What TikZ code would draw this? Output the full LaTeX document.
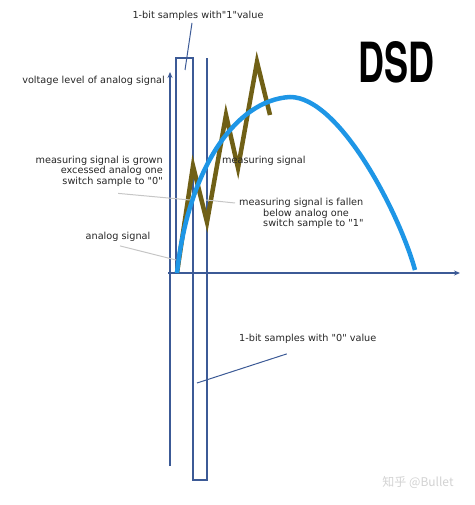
\documentclass[tikz,border=0pt]{standalone}
\usepackage{graphicx}
\usepackage{fontspec}
\setmainfont{DejaVu Sans}
\newfontfamily\cjkfont{Noto Sans CJK SC}
\newfontfamily\dsdfont{TeX Gyre Heros}
\usetikzlibrary{arrows.meta}

\definecolor{axisblue}{RGB}{60,90,150}
\definecolor{analogblue}{RGB}{30,150,230}
\definecolor{olivesig}{RGB}{112,96,22}
\newcommand{\sq}{\textquotedbl}

\begin{document}
\begin{tikzpicture}[x=1pt,y=-1pt,
    lbl/.style={inner sep=0pt,font=\fontsize{9.7}{10.5}\selectfont,text=black!85},
    axisline/.style={axisblue,line width=1.6pt},
    pointer/.style={axisblue,line width=1pt},
    faintpointer/.style={gray!45,line width=1pt}]
\useasboundingbox (0,0) rectangle (474,505);

% axes
\draw[axisline,-{Stealth[length=6pt,width=5pt]}] (170,466) -- (170,72);
\draw[axisline,-{Stealth[length=6pt,width=5pt]}] (168,273) -- (460,273);

% 1-bit sample strips
\draw[axisline] (176,273) -- (176,58) -- (193,58) -- (193,480) -- (207,480) -- (207,58);

% measuring signal
\draw[olivesig,line width=4.5pt,line join=miter]
  (177,273) -- (193,166) -- (207,222) -- (226,115) -- (238,168) -- (257,62) -- (270,115);

% analog signal
\draw[analogblue,line width=4.5pt]
  (177,273) .. controls (188,170) and (235,100) .. (290,97)
  .. controls (340,97) and (400,215) .. (415,270);

\node[inner sep=0pt] (dsd) at (396,62) {\resizebox{76pt}{41pt}{\dsdfont\bfseries DSD}};

\node[lbl] (lblone) at (198,16) {1-bit samples with\sq1\sq value};
\node[lbl,anchor=east] (lblvolt) at (165,81) {voltage level of analog signal};
\node[lbl,anchor=east,align=right] (lblgrown) at (163,171)
  {measuring signal is grown\\excessed analog one\\switch sample to \sq0\sq};
\node[lbl] (lblanalog) at (118,237) {analog signal};
\node[lbl,anchor=west] (lblmeas) at (222,161) {measuring signal};
\node[lbl,anchor=north west,align=left] (lblfallen) at (239,198)
  {measuring signal is fallen\\\hspace*{24pt}below analog one\\\hspace*{24pt}switch sample to \sq1\sq};
\node[lbl,anchor=west] (lblzero) at (239,339) {1-bit samples with \sq0\sq{} value};

\node[inner sep=0pt,text=gray!35,font=\cjkfont\fontsize{12}{13}\selectfont] (mark) at (418,482) {知乎 @Bullet};

% leaders
\coordinate (oneend) at (185,70);
\coordinate (grownend) at (190,200);
\coordinate (analogend) at (176,260);
\coordinate (fallenend) at (206,200);
\coordinate (zeroend) at (197,383);
\draw[pointer] ([xshift=-6pt,yshift=-2pt]lblone.south) -- (oneend);
\draw[faintpointer] ([xshift=19pt,yshift=-7pt]lblgrown.south) -- (grownend);
\draw[faintpointer] ([xshift=2pt,yshift=-4pt]lblanalog.south) -- (analogend);
\draw[faintpointer] ([xshift=-4pt,yshift=-5pt]lblfallen.north west) -- (fallenend);
\draw[pointer] ([xshift=-21pt,yshift=-10pt]lblzero.south) -- (zeroend);
\end{tikzpicture}
\end{document}
